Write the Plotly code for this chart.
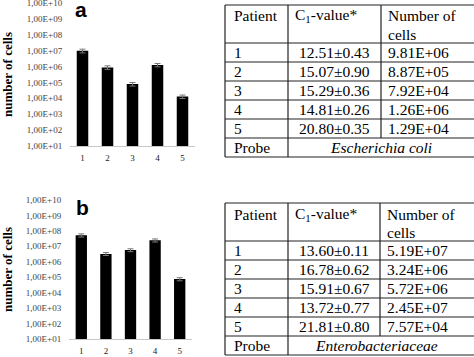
import plotly.graph_objects as go

W, H = 474, 357

# ---------------- data ----------------
patients = [1, 2, 3, 4, 5]
x_tick_labels = ["1", "2", "3", "4", "5"]

ecoli_cells = [9.81e6, 8.87e5, 7.92e4, 1.26e6, 1.29e4]
ecoli_err = [2.6e6, 2.2e5, 2.0e4, 3.0e5, 3.2e3]
ecoli_ct = ["12.51±0.43", "15.07±0.90", "15.29±0.36", "14.81±0.26", "20.80±0.35"]
ecoli_cells_txt = ["9.81E+06", "8.87E+05", "7.92E+04", "1.26E+06", "1.29E+04"]
ecoli_probe = "Escherichia coli"

entero_cells = [5.19e7, 3.24e6, 5.72e6, 2.45e7, 7.57e4]
entero_err = [1.2e7, 7.0e5, 1.2e6, 5.5e6, 1.7e4]
entero_ct = ["13.60±0.11", "16.78±0.62", "15.91±0.67", "13.72±0.77", "21.81±0.80"]
entero_cells_txt = ["5.19E+07", "3.24E+06", "5.72E+06", "2.45E+07", "7.57E+04"]
entero_probe = "Enterobacteriaceae"

y_tick_vals = [1e1, 1e2, 1e3, 1e4, 1e5, 1e6, 1e7, 1e8, 1e9, 1e10]
y_tick_labels = ["1,00E+01", "1,00E+02", "1,00E+03", "1,00E+04", "1,00E+05",
                 "1,00E+06", "1,00E+07", "1,00E+08", "1,00E+09", "1,00E+10"]

header = ["Patient", "C<sub>1</sub>-value*", "Number of", "cells"]
panel_letters = ["a", "b"]
y_title = "number of cells"

# ---------------- helpers ----------------
def px(x):
    return x / W

def py(y):
    return 1 - y / H

SERIF = "Liberation Serif, Times New Roman, serif"

fig = go.Figure()

panels = [
    dict(cells=ecoli_cells, err=ecoli_err, xd=(70, 195), yd=(3, 146), xa="x", ya="y"),
    dict(cells=entero_cells, err=entero_err, xd=(69, 192), yd=(200, 339), xa="x2", ya="y2"),
]

for p in panels:
    fig.add_trace(go.Bar(
        x=patients, y=p["cells"], xaxis=p["xa"], yaxis=p["ya"],
        marker=dict(color="black", line=dict(width=0)),
        width=0.46,
        error_y=dict(type="data", array=p["err"], visible=True,
                     color="#777", thickness=1, width=3),
        showlegend=False,
    ))

def xaxis_cfg(p, anchor):
    return dict(domain=[px(p["xd"][0]), px(p["xd"][1])], anchor=anchor, automargin=False,
                range=[0.5, 5.5], tickvals=patients, ticktext=x_tick_labels,
                showgrid=False, zeroline=False, showline=True, linecolor="#c8c8c8",
                linewidth=1, ticks="outside", ticklen=3, tickcolor="rgba(0,0,0,0)",
                tickfont=dict(family=SERIF, size=9, color="#222"), fixedrange=True)

def yaxis_cfg(p, anchor):
    return dict(domain=[py(p["yd"][1]), py(p["yd"][0])], anchor=anchor, type="log",
                automargin=False, ticklabeloverflow="allow",
                range=[1, 10], tickvals=y_tick_vals, ticktext=y_tick_labels,
                showgrid=False, zeroline=False, showline=False,
                ticks="outside", ticklen=5, tickcolor="rgba(0,0,0,0)",
                tickfont=dict(family=SERIF, size=9, color="#444"), fixedrange=True)

fig.update_layout(
    xaxis=xaxis_cfg(panels[0], "y"), yaxis=yaxis_cfg(panels[0], "x"),
    xaxis2=xaxis_cfg(panels[1], "y2"), yaxis2=yaxis_cfg(panels[1], "x2"),
)

annotations = []
shapes = []

# panel letters and y titles
for letter, (lx, ly), ty in zip(panel_letters, [(81, 9), (82, 207)], [75, 270]):
    annotations.append(dict(text=f"<b>{letter}</b>", x=px(lx), y=py(ly), xref="paper", yref="paper",
                            showarrow=False, xanchor="center", yanchor="middle",
                            font=dict(family="Liberation Sans, Arial, sans-serif", size=21, color="black")))
    annotations.append(dict(text=f"<b>{y_title}</b>", x=px(7), y=py(ty), xref="paper", yref="paper",
                            showarrow=False, xanchor="center", yanchor="middle", textangle=-90,
                            font=dict(family=SERIF, size=13, color="black")))

# tables
tables = [
    dict(top=5, hdr=43, row=19, ct=ecoli_ct, cells=ecoli_cells_txt, probe=ecoli_probe, c2=288, c3=381, pc=381),
    dict(top=203, hdr=241, row=19, ct=entero_ct, cells=entero_cells_txt, probe=entero_probe, c2=288, c3=380, pc=376),
]
L, R = 225, 480
LINE = dict(color="#222", width=1.2)
tfont = dict(family=SERIF, size=15.5, color="black")

def ann(text, x, y, xanchor="left"):
    annotations.append(dict(text=text, x=px(x), y=py(y), xref="paper", yref="paper",
                            showarrow=False, xanchor=xanchor, yanchor="middle", font=tfont))

for t in tables:
    top, hdr, rh = t["top"], t["hdr"], t["row"]
    n = len(patients)
    bottom = hdr + rh * (n + 1)
    probe_top = hdr + rh * n
    for yline in [top, hdr] + [hdr + rh * (i + 1) for i in range(n)] + [bottom]:
        shapes.append(dict(type="line", xref="paper", yref="paper", x0=px(L), x1=px(R),
                           y0=py(yline), y1=py(yline), line=LINE))
    for xl, yb in [(L, bottom), (t["c2"], bottom), (t["c3"], probe_top)]:
        shapes.append(dict(type="line", xref="paper", yref="paper", x0=px(xl), x1=px(xl),
                           y0=py(top), y1=py(yb), line=LINE))
    # header text
    ann(header[0], L + 7, top + 11)
    ann(header[1], t["c2"] + 5, top + 11)
    ann(header[2], t["c3"] + 5, top + 11)
    ann(header[3], t["c3"] + 5, top + 29)
    # rows
    for i in range(n):
        yc = hdr + rh * i + rh / 2
        ann(str(patients[i]), L + 7, yc)
        ann(t["ct"][i], (t["c2"] + t["c3"]) / 2, yc, "center")
        ann(t["cells"][i], t["c3"] + 5, yc)
    yc = probe_top + rh / 2
    ann("Probe", L + 7, yc)
    ann(f"<i>{t['probe']}</i>", t["pc"], yc, "center")

fig.update_layout(
    width=W, height=H, margin=dict(l=0, r=0, t=0, b=0, autoexpand=False),
    paper_bgcolor="white", plot_bgcolor="white",
    annotations=annotations, shapes=shapes, bargap=0.5,
)

fig.write_html("out.html", config={"displayModeBar": False},
               post_script="document.body.style.margin='0px';document.body.style.overflow='hidden';")
